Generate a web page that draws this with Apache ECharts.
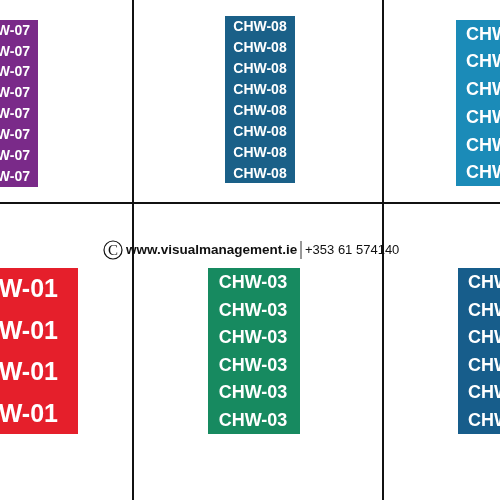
<!DOCTYPE html>
<html>
<head>
<meta charset="UTF-8">
<script src="https://cdn.jsdelivr.net/npm/echarts@6/dist/echarts.min.js"></script>
<style>html,body{margin:0;padding:0;background:#fff}#c{width:500px;height:500px}</style>
</head>
<body>
<div id="c"></div>
<script>
// label panels: [x0, y0, x1, y1, colour]
var panels = [
  [0, 20, 38, 187, '#7a2a89'],
  [225, 16, 295, 183, '#1a6088'],
  [456, 20, 505, 186, '#1b8bb8'],
  [0, 268, 78, 434, '#e51f2b'],
  [208, 268, 300, 434, '#178a60'],
  [458, 268, 505, 434, '#175d8b']
]
// texts: [x, y, text, fontSize, align]
var labels = []
var rows07 = [31, 52, 72, 93, 114, 135, 156, 177]
var rows08 = [27, 48, 69, 90, 111, 132, 153, 174]
var rowsTR = [35, 62, 90, 118, 146, 173]
var rows01 = [290, 332, 373, 415]
var rows03 = [283, 311, 338, 366, 393, 421]
var rowsBR = [283, 311, 338, 366, 393, 421]
rows07.forEach(function (y) { labels.push([30, y, 'CHW-07', 14, 'right']) })
rows08.forEach(function (y) { labels.push([260, y, 'CHW-08', 14, 'center']) })
rowsTR.forEach(function (y) { labels.push([466, y, 'CHW-08', 18, 'left']) })
rows01.forEach(function (y) { labels.push([58, y, 'CHW-01', 25, 'right']) })
rows03.forEach(function (y) { labels.push([253, y, 'CHW-03', 18, 'center']) })
rowsBR.forEach(function (y) { labels.push([468, y, 'CHW-03', 18, 'left']) })
// divider lines: [x0, y0, x1, y1]
var dividers = [[133, 0, 133, 500], [383, 0, 383, 500], [0, 203, 500, 203]]

var chart = echarts.init(document.getElementById('c'))
chart.setOption({
  animation: false,
  grid: { left: 0, right: 0, top: 0, bottom: 0 },
  xAxis: { type: 'value', min: 0, max: 500, show: false },
  yAxis: { type: 'value', min: 0, max: 500, inverse: true, show: false },
  series: [
    {
      type: 'custom', data: dividers,
      renderItem: function (params, api) {
        var a = api.coord([api.value(0), api.value(1)])
        var b = api.coord([api.value(2), api.value(3)])
        return { type: 'line', shape: { x1: a[0], y1: a[1], x2: b[0], y2: b[1] }, style: { stroke: '#111', lineWidth: 2 } }
      }
    },
    {
      type: 'custom', data: panels,
      renderItem: function (params, api) {
        var p = panels[params.dataIndex]
        var a = api.coord([p[0], p[1]])
        var b = api.coord([p[2], p[3]])
        return { type: 'rect', shape: { x: a[0], y: a[1], width: b[0] - a[0], height: b[1] - a[1] }, style: { fill: p[4] } }
      }
    },
    {
      type: 'custom', data: labels, z: 5,
      renderItem: function (params, api) {
        var l = labels[params.dataIndex]
        var a = api.coord([l[0], l[1]])
        return { type: 'text', x: a[0], y: a[1], style: { text: l[2], fill: '#fff', font: 'bold ' + l[3] + 'px "Liberation Sans", Arial, sans-serif', textAlign: l[4], textVerticalAlign: 'middle' } }
      }
    }
  ],
  graphic: [
    { type: 'circle', z: 10, shape: { cx: 113, cy: 250, r: 9 }, style: { fill: 'none', stroke: '#111', lineWidth: 1.2 } },
    { type: 'text', z: 10, x: 113, y: 251, style: { text: 'C', font: '15px "Liberation Serif", serif', fill: '#111', textAlign: 'center', textVerticalAlign: 'middle' } },
    { type: 'text', z: 10, x: 126, y: 250, style: { text: 'www.visualmanagement.ie', font: 'bold 13.5px "Liberation Sans", Arial, sans-serif', fill: '#111', textVerticalAlign: 'middle' } },
    { type: 'line', z: 10, shape: { x1: 301, y1: 241, x2: 301, y2: 259 }, style: { stroke: '#333', lineWidth: 1 } },
    { type: 'text', z: 10, x: 305, y: 250, style: { text: '+353 61 574140', font: '13px "Liberation Sans", Arial, sans-serif', fill: '#111', textVerticalAlign: 'middle' } }
  ]
})
</script>
</body>
</html>
